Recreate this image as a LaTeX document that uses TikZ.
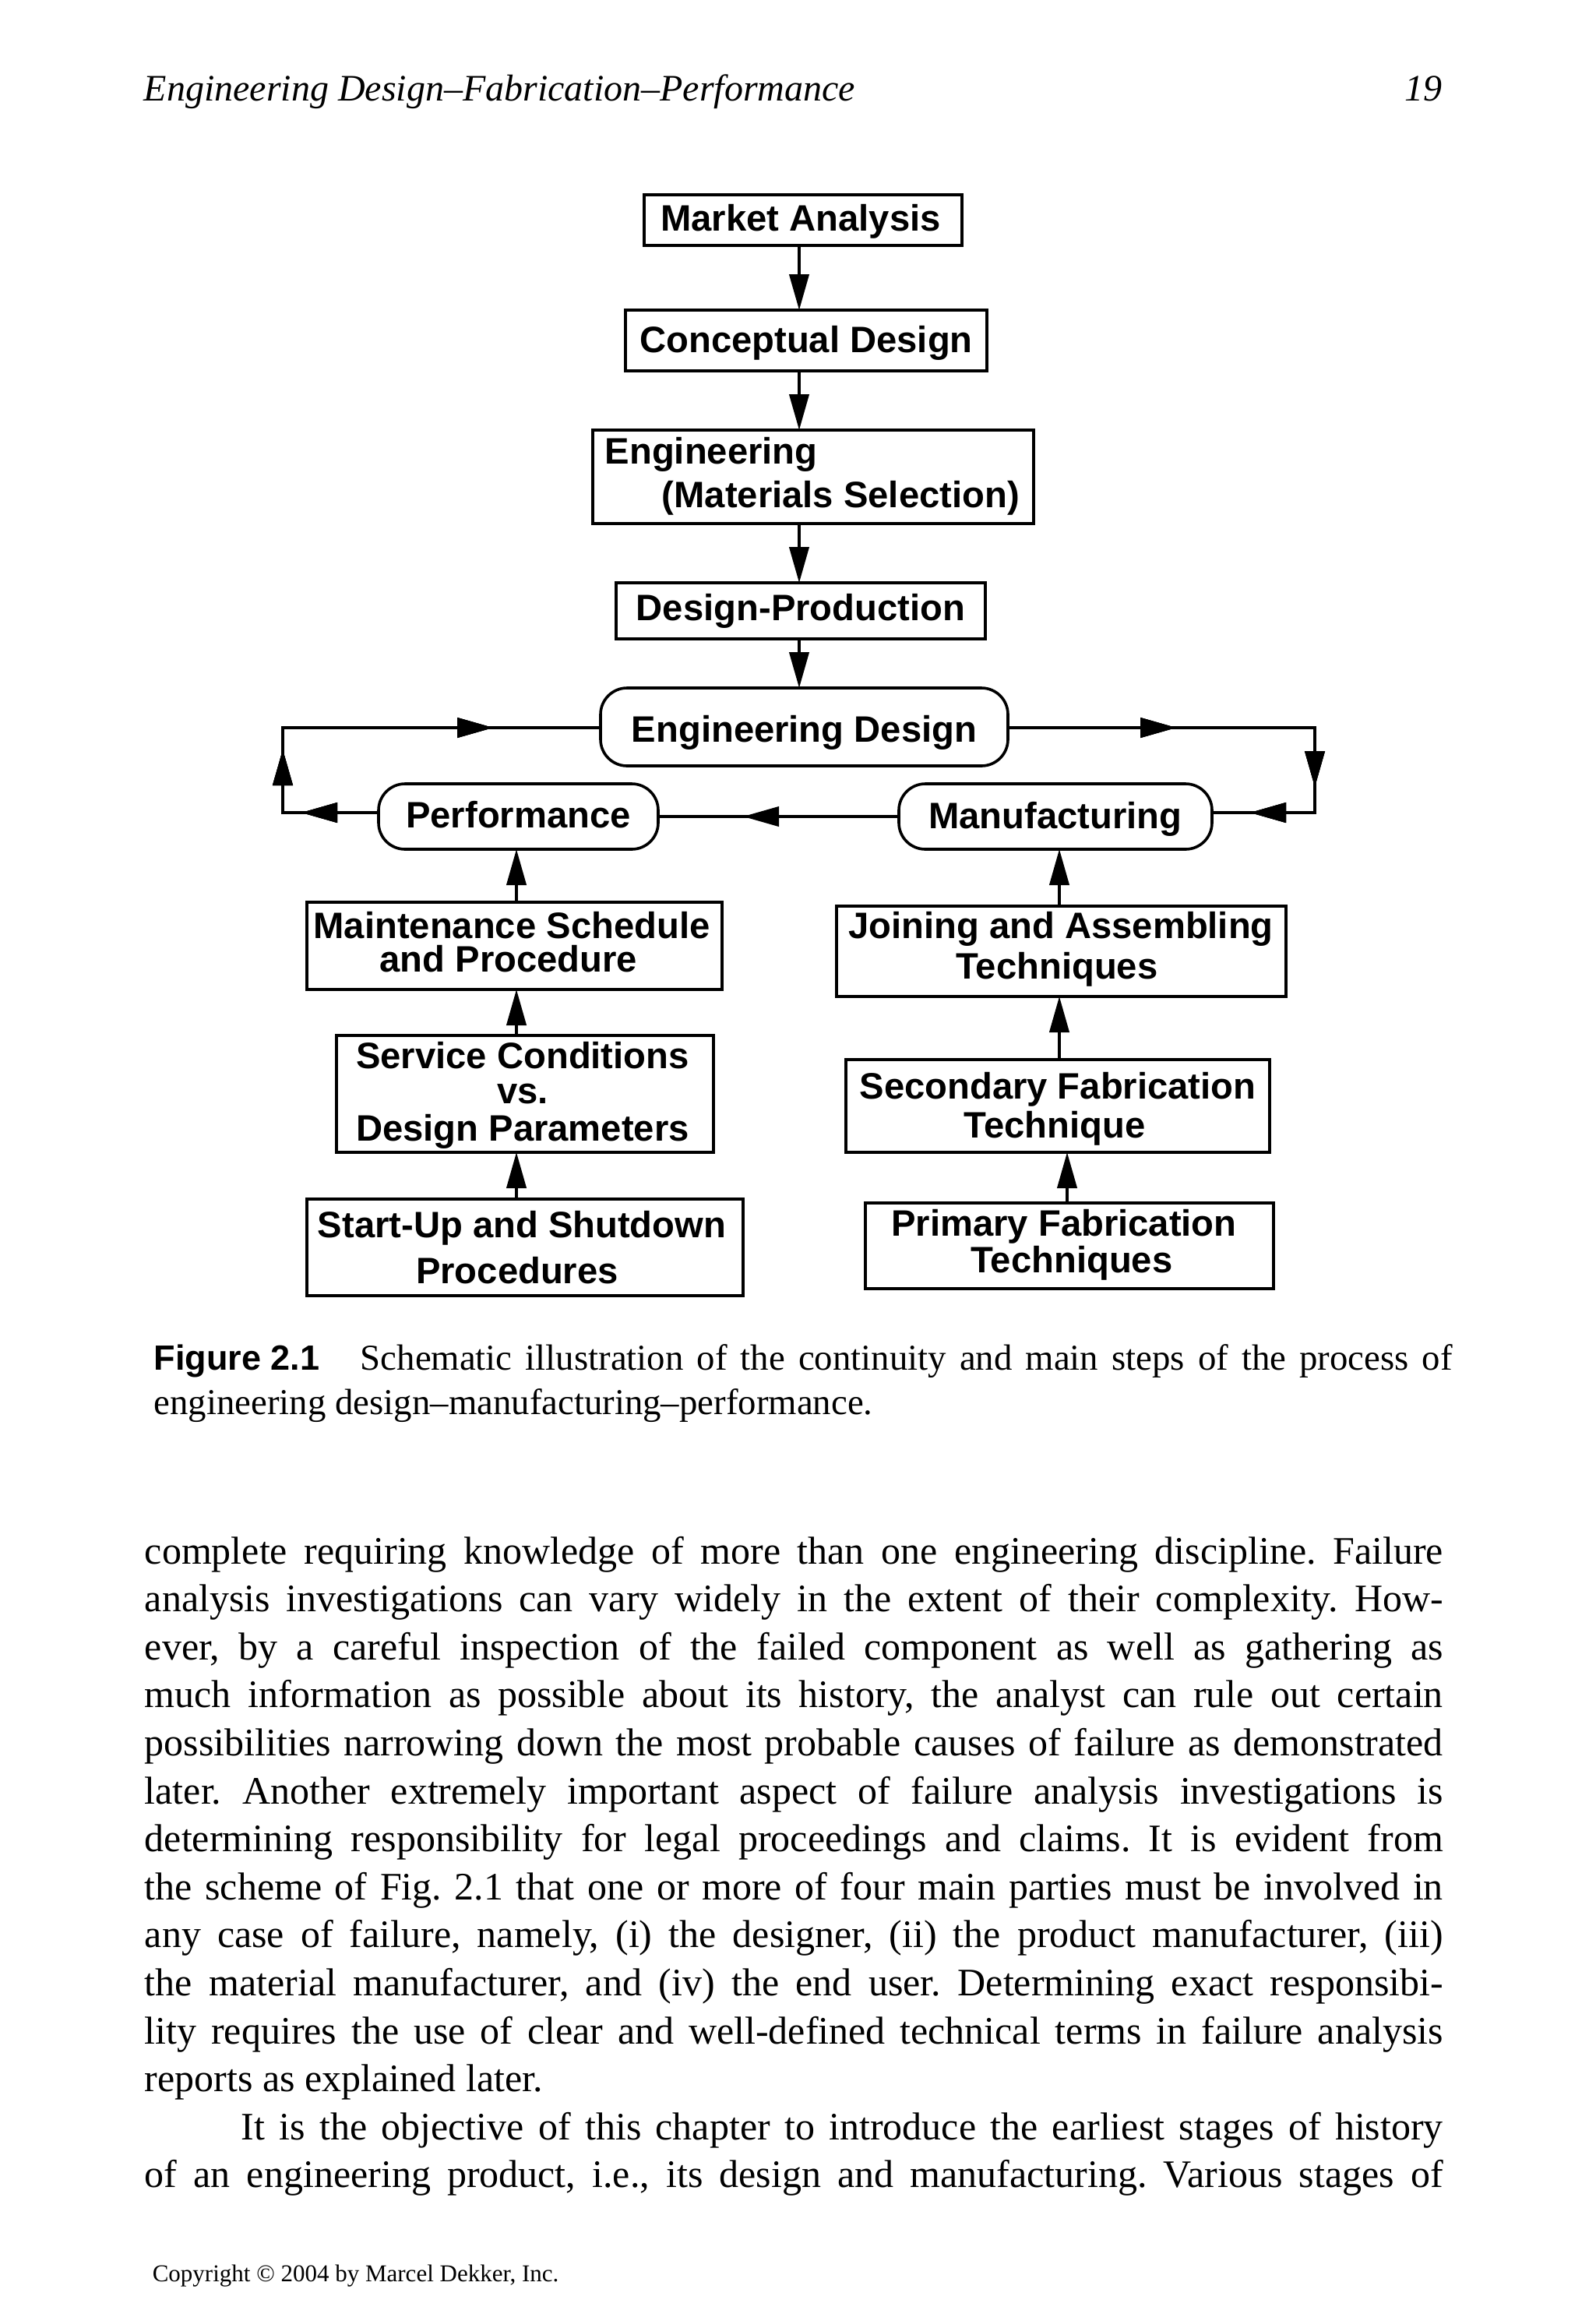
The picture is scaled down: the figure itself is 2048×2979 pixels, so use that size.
\documentclass[tikz,border=0pt]{standalone}
\usepackage{fontspec}
\setmainfont{Liberation Serif}
\newfontfamily\diagfont{Liberation Sans}
\usetikzlibrary{arrows.meta,decorations.markings}
\frenchspacing
\begin{document}
\begin{tikzpicture}[x=0.25pt,y=-0.25pt,
  rbox/.style={draw,line width=1pt,inner sep=0pt,outer sep=0pt},
  obox/.style={draw,line width=0.9pt,rounded corners=8.5pt,inner sep=0pt,outer sep=0pt},
  lbl/.style={font=\diagfont\bfseries\fontsize{11.8}{14}\selectfont,inner sep=0pt,anchor=base},
  ln/.style={line width=0.85pt},
  arr/.style={ln,-{Triangle[length=11.5pt,width=6.3pt]}},
  body/.style={font=\fontsize{12.5}{15}\selectfont,inner sep=0pt,anchor=base west},
  capt/.style={font=\fontsize{11.7}{14}\selectfont,inner sep=0pt,anchor=base west},
  mid/.style={postaction={decorate},decoration={markings,mark=at position #1 with {\arrow{Triangle[length=11.5pt,width=6.3pt]}}}}
]
\fill[white] (0,0) rectangle (2048,2979);
\useasboundingbox (0,0) rectangle (2048,2979);

% header
\node[font=\itshape\fontsize{12}{14}\selectfont,inner sep=0pt,anchor=base west] (hd) at (184,129) {Engineering Design\textendash Fabrication\textendash Performance};
\node[font=\itshape\fontsize{12}{14}\selectfont,inner sep=0pt,anchor=base east] (pg) at (1852,129) {19};

% boxes
\node[rbox,minimum width=102pt,minimum height=16.25pt] (ma) at (1031,282.5) {};
\node[rbox,minimum width=116pt,minimum height=19.5pt] (cd) at (1035,437) {};
\node[rbox,minimum width=141.5pt,minimum height=30pt] (em) at (1044,612) {};
\node[rbox,minimum width=118.5pt,minimum height=18pt] (dp) at (1028,784) {};
\node[obox,minimum width=130.75pt,minimum height=25pt] (ed) at (1032.5,933) {};
\node[obox,minimum width=89.75pt,minimum height=21pt] (pf) at (665.5,1048) {};
\node[obox,minimum width=100.5pt,minimum height=21pt] (mf) at (1355,1048) {};
\node[rbox,minimum width=133.25pt,minimum height=28pt] (mt) at (660.5,1214) {};
\node[rbox,minimum width=144.25pt,minimum height=29pt] (jn) at (1362.5,1221) {};
\node[rbox,minimum width=121pt,minimum height=37.5pt] (sv) at (674,1404) {};
\node[rbox,minimum width=136pt,minimum height=29.75pt] (sf) at (1358,1419.5) {};
\node[rbox,minimum width=140pt,minimum height=31pt] (su) at (674,1601) {};
\node[rbox,minimum width=131pt,minimum height=27.5pt] (pr) at (1373,1599) {};

% box texts
\node[lbl] (tma) at (1028,296) {Market Analysis};
\node[lbl] (tcd) at (1035,452) {Conceptual Design};
\node[lbl,anchor=base west] (tem1) at (776,595) {Engineering};
\node[lbl,anchor=base west] (tem2) at (849,651) {(Materials Selection)};
\node[lbl] (tdp) at (1028,796) {Design-Production};
\node[lbl] (ted) at (1032.5,952) {Engineering Design};
\node[lbl] (tpf) at (665.5,1062) {Performance};
\node[lbl] (tmf) at (1355,1063) {Manufacturing};
\node[lbl] (tmt1) at (657,1204) {Maintenance Schedule};
\node[lbl] (tmt2) at (653,1247) {and Procedure};
\node[lbl] (tjn1) at (1362,1204) {Joining and Assembling};
\node[lbl] (tjn2) at (1357,1256) {Techniques};
\node[lbl] (tsv1) at (671,1371) {Service Conditions};
\node[lbl] (tsv2) at (671,1416) {vs.};
\node[lbl] (tsv3) at (671,1464) {Design Parameters};
\node[lbl] (tsf1) at (1358,1410) {Secondary Fabrication};
\node[lbl] (tsf2) at (1354,1460) {Technique};
\node[lbl] (tsu1) at (670,1588) {Start-Up and Shutdown};
\node[lbl] (tsu2) at (664,1647) {Procedures};
\node[lbl] (tpr1) at (1366,1586) {Primary Fabrication};
\node[lbl] (tpr2) at (1376,1633) {Techniques};

% helper coordinates
\coordinate (cx) at (1026,0);
\coordinate (lx) at (663,0);
\coordinate (rx) at (1360,0);
\coordinate (rx2) at (1370,0);
\coordinate (tr) at (1688,934);
\coordinate (br) at (1688,1043);
\coordinate (tl) at (363,934);
\coordinate (bl) at (363,1043);

% main chain
\draw[arr] (ma.south -| cx) -- (cd.north -| cx);
\draw[arr] (cd.south -| cx) -- (em.north -| cx);
\draw[arr] (em.south -| cx) -- (dp.north -| cx);
\draw[arr] (dp.south -| cx) -- (ed.north -| cx);

% loop
\draw[ln,line join=miter,mid=54pt,mid=117.5pt,mid=146.5pt] (ed.east |- tr) -- (tr) -- (br) -- (mf.east |- br);
\draw[ln,line join=miter,mid=24.75pt,mid=51pt,mid=125.5pt] (pf.west |- bl) -- (bl) -- (tl) -- (ed.west |- tl);
\draw[ln,mid=50pt] (mf.west) -- (pf.east);

% columns
\draw[arr] (mt.north -| lx) -- (pf.south -| lx);
\draw[arr] (sv.north -| lx) -- (mt.south -| lx);
\draw[arr] (su.north -| lx) -- (sv.south -| lx);
\draw[arr] (jn.north -| rx) -- (mf.south -| rx);
\draw[arr] (sf.north -| rx) -- (jn.south -| rx);
\draw[arr] (pr.north -| rx2) -- (sf.south -| rx2);

% caption
\node[font=\diagfont\bfseries\fontsize{11.25}{14}\selectfont,inner sep=0pt,anchor=base west] (cfig) at (197,1758) {Figure 2.1};
\node[capt] (c1) at (462,1758) {\makebox[350.5pt][s]{Schematic illustration of the continuity and main steps of the process of}};
\node[capt] (c2) at (197,1815) {engineering design\textendash manufacturing\textendash performance.};

% body text
\node[body] (l1) at (185,2007) {\makebox[416.75pt][s]{complete requiring knowledge of more than one engineering discipline. Failure}};
\node[body] (l2) at (185,2068.6) {\makebox[416.75pt][s]{analysis investigations can vary widely in the extent of their complexity. How-}};
\node[body] (l3) at (185,2130.2) {\makebox[416.75pt][s]{ever, by a careful inspection of the failed component as well as gathering as}};
\node[body] (l4) at (185,2191.8) {\makebox[416.75pt][s]{much information as possible about its history, the analyst can rule out certain}};
\node[body] (l5) at (185,2253.4) {\makebox[416.75pt][s]{possibilities narrowing down the most probable causes of failure as demonstrated}};
\node[body] (l6) at (185,2315) {\makebox[416.75pt][s]{later. Another extremely important aspect of failure analysis investigations is}};
\node[body] (l7) at (185,2376.6) {\makebox[416.75pt][s]{determining responsibility for legal proceedings and claims. It is evident from}};
\node[body] (l8) at (185,2438.2) {\makebox[416.75pt][s]{the scheme of Fig. 2.1 that one or more of four main parties must be involved in}};
\node[body] (l9) at (185,2499.8) {\makebox[416.75pt][s]{any case of failure, namely, (i) the designer, (ii) the product manufacturer, (iii)}};
\node[body] (l10) at (185,2561.4) {\makebox[416.75pt][s]{the material manufacturer, and (iv) the end user. Determining exact responsibi-}};
\node[body] (l11) at (185,2623) {\makebox[416.75pt][s]{lity requires the use of clear and well-defined technical terms in failure analysis}};
\node[body] (l12) at (185,2684.6) {reports as explained later.};
\node[body] (l13) at (309,2746.2) {\makebox[385.75pt][s]{It is the objective of this chapter to introduce the earliest stages of history}};
\node[body] (l14) at (185,2807.8) {\makebox[416.75pt][s]{of an engineering product, i.e., its design and manufacturing. Various stages of}};

% footer
\node[font=\fontsize{7.75}{9}\selectfont,inner sep=0pt,anchor=base west] (ft) at (195,2928) {Copyright \textcopyright\ 2004 by Marcel Dekker, Inc.};
\end{tikzpicture}
\end{document}
